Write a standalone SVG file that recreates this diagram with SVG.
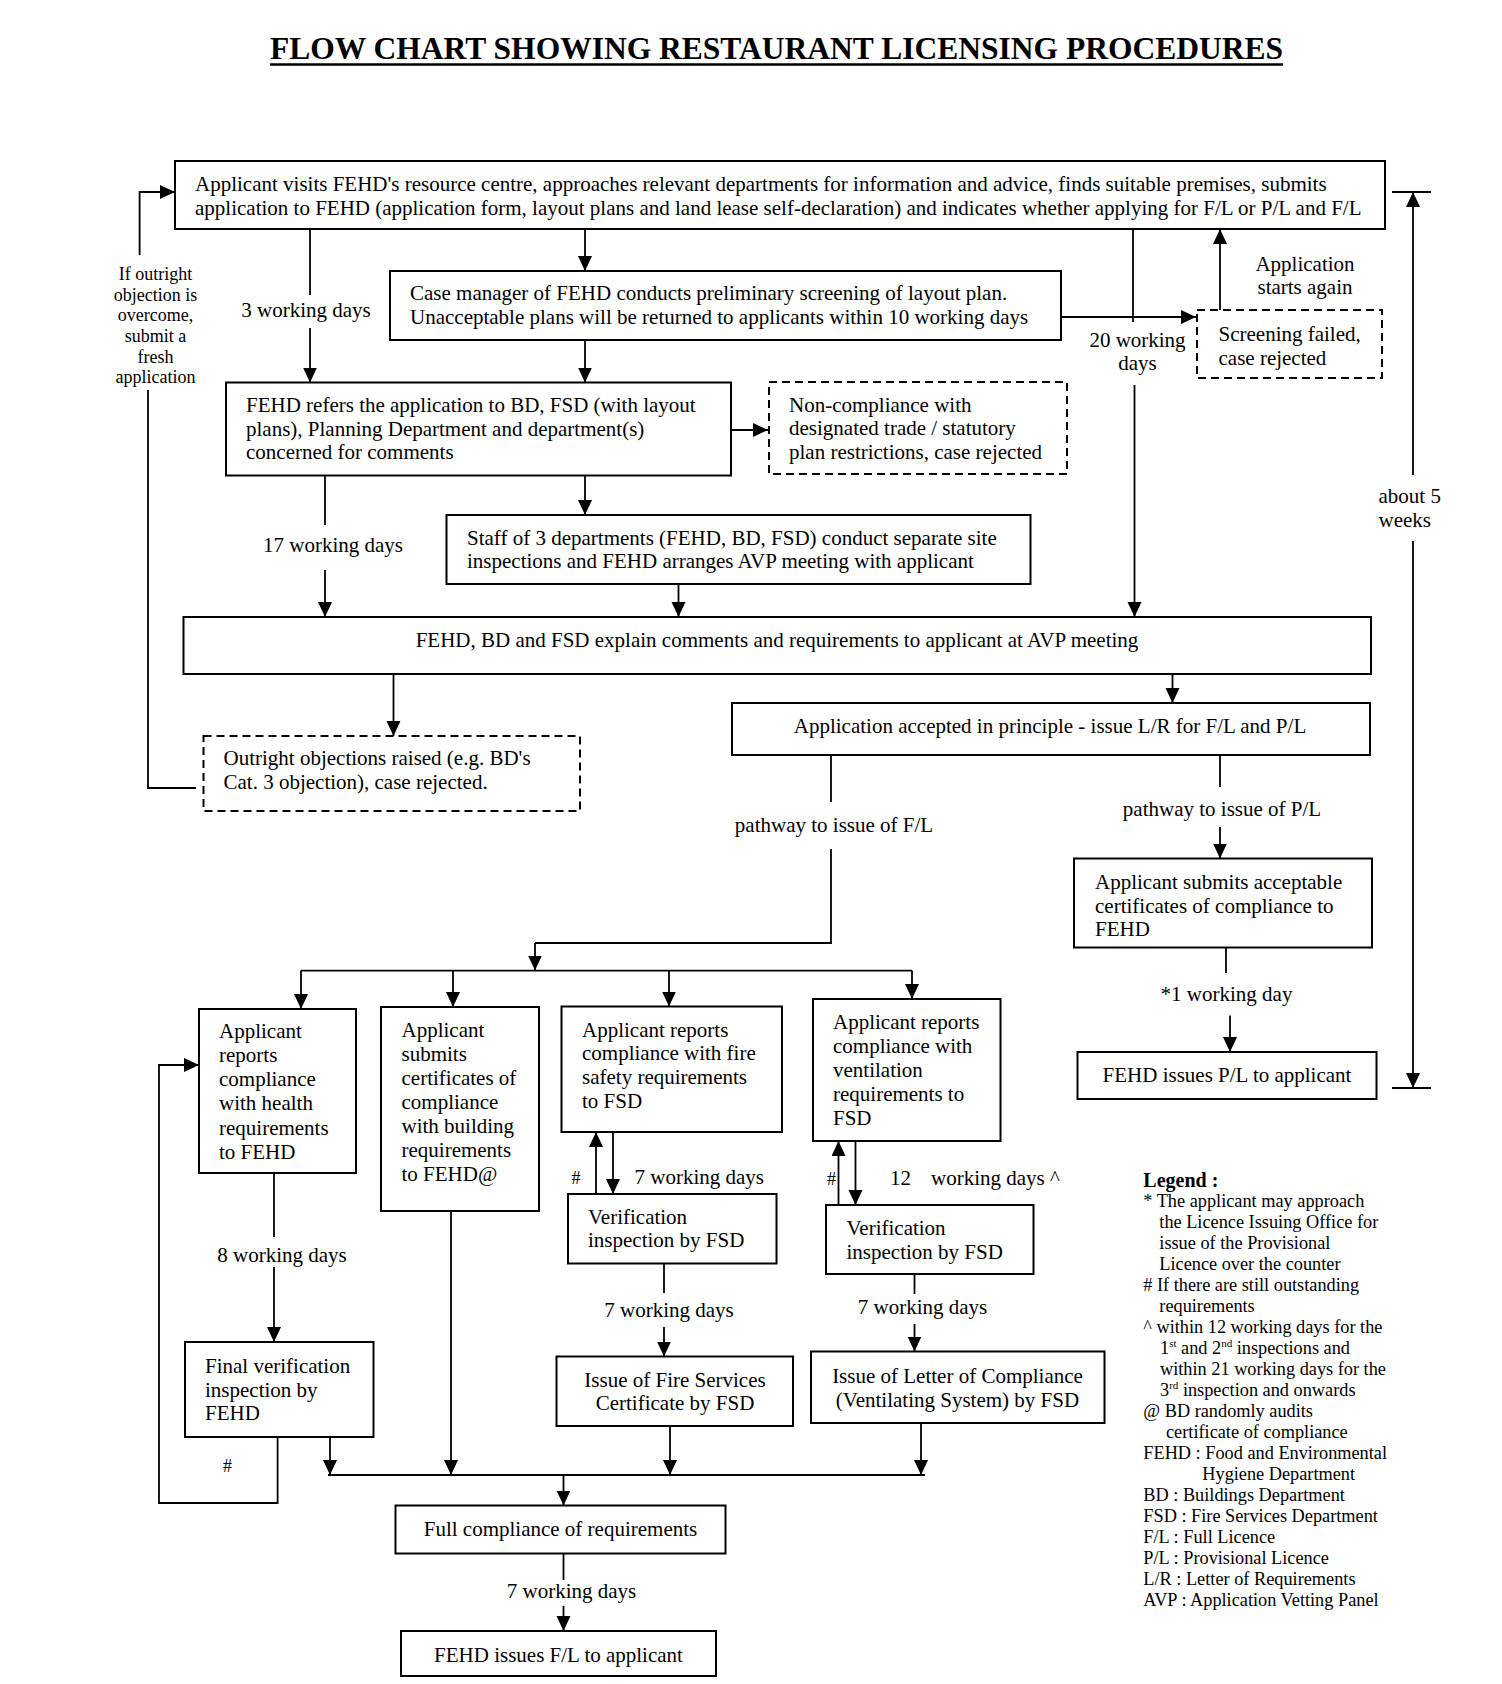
<svg xmlns="http://www.w3.org/2000/svg" width="1502" height="1684" viewBox="0 0 1502 1684">
<style>
text{font-family:"Liberation Serif","Times New Roman",serif;font-size:21px;fill:#000}
.s{font-size:18px}
.l{font-size:18.3px}
.m{text-anchor:middle}
.box{fill:#fff;stroke:#000;stroke-width:2}
.dash{fill:#fff;stroke:#000;stroke-width:2;stroke-dasharray:8 5}
.c{fill:none;stroke:#000;stroke-width:1.8}
.a{marker-end:url(#ah)}
</style>
<defs>
<marker id="ah" markerUnits="userSpaceOnUse" markerWidth="16" markerHeight="15" refX="15" refY="7" orient="auto">
<path d="M0,0 L15,7 L0,14 z" fill="#000"/>
</marker>
</defs>
<rect width="1502" height="1684" fill="#fff"/>

<g id="title">
<text x="776.5" y="59" class="m" style="font-size:31px;font-weight:bold" textLength="1013" lengthAdjust="spacingAndGlyphs">FLOW CHART SHOWING RESTAURANT LICENSING PROCEDURES</text>
<line x1="270" y1="64.5" x2="1283" y2="64.5" stroke="#000" stroke-width="2.4"/>
</g>

<g id="connectors">
<line class="c a" x1="585" y1="229" x2="585" y2="271"/>
<line class="c" x1="310" y1="229" x2="310" y2="295"/>
<line class="c a" x1="310" y1="328" x2="310" y2="382.5"/>
<text x="306" y="316.5" class="m">3 working days</text>
<line class="c a" x1="585" y1="340" x2="585" y2="382.5"/>
<line class="c a" x1="1061" y1="317" x2="1196" y2="317"/>
<line class="c a" x1="1220" y1="310" x2="1220" y2="229"/>
<text x="1305" y="271" class="m">Application</text>
<text x="1305" y="293.5" class="m">starts again</text>
<line class="c" x1="1133" y1="229" x2="1133" y2="322"/>
<line class="c a" x1="1134.5" y1="385" x2="1134.5" y2="617"/>
<text x="1137.5" y="346.5" class="m">20 working</text>
<text x="1137.5" y="370" class="m">days</text>
<line class="c a" x1="731" y1="430" x2="768" y2="430"/>
<line class="c a" x1="585" y1="475.5" x2="585" y2="515"/>
<line class="c" x1="325" y1="475.5" x2="325" y2="525"/>
<line class="c a" x1="325" y1="570" x2="325" y2="617"/>
<text x="333" y="551.5" class="m">17 working days</text>
<line class="c a" x1="678.5" y1="584" x2="678.5" y2="617"/>
<line class="c a" x1="393.5" y1="674" x2="393.5" y2="736"/>
<line class="c a" x1="1172.5" y1="674" x2="1172.5" y2="703"/>
<polyline class="c" points="196,788 148,788 148,390"/>
<polyline class="c a" points="139.6,255 139.6,192 175,192"/>
<text class="s m" x="155.5" y="280">If outright</text>
<text class="s m" x="155.5" y="300.7">objection is</text>
<text class="s m" x="155.5" y="321.3">overcome,</text>
<text class="s m" x="155.5" y="342">submit a</text>
<text class="s m" x="155.5" y="362.7">fresh</text>
<text class="s m" x="155.5" y="383.4">application</text>
<line class="c" x1="1392" y1="192" x2="1431" y2="192"/>
<line class="c" x1="1392" y1="1088" x2="1431" y2="1088"/>
<line class="c a" x1="1413" y1="475" x2="1413" y2="192"/>
<line class="c a" x1="1413" y1="541" x2="1413" y2="1088"/>
<text x="1378.5" y="503">about 5</text>
<text x="1378.5" y="526.7">weeks</text>
<line class="c" x1="831" y1="755" x2="831" y2="802"/>
<polyline class="c" points="831,849 831,943 535,943"/>
<line class="c a" x1="535" y1="943" x2="535" y2="970.6"/>
<text x="834" y="832" class="m">pathway to issue of F/L</text>
<line class="c" x1="301" y1="970.6" x2="912" y2="970.6"/>
<line class="c a" x1="301" y1="970.6" x2="301" y2="1009"/>
<line class="c a" x1="453" y1="970.6" x2="453" y2="1007"/>
<line class="c a" x1="669" y1="970.6" x2="669" y2="1006.5"/>
<line class="c a" x1="912" y1="970.6" x2="912" y2="999"/>
<line class="c" x1="1220" y1="755" x2="1220" y2="787"/>
<line class="c a" x1="1220" y1="827" x2="1220" y2="858.5"/>
<text x="1222" y="816" class="m">pathway to issue of P/L</text>
<line class="c" x1="1226" y1="947.5" x2="1226" y2="973"/>
<line class="c a" x1="1230" y1="1015.5" x2="1230" y2="1052"/>
<text x="1226.5" y="1000.5" class="m">*1 working day</text>
<line class="c" x1="274" y1="1173" x2="274" y2="1237"/>
<line class="c a" x1="274" y1="1267" x2="274" y2="1342"/>
<text x="282" y="1261.5" class="m">8 working days</text>
<polyline class="c a" points="277.6,1437 277.6,1503 159,1503 159,1065 199,1065"/>
<text x="227.5" y="1471.5" class="s m">#</text>
<line class="c a" x1="451" y1="1211" x2="451" y2="1475"/>
<line class="c a" x1="596" y1="1194" x2="596" y2="1132"/>
<line class="c a" x1="613" y1="1132" x2="613" y2="1194"/>
<text x="576" y="1183.5" class="s m">#</text>
<text x="634.5" y="1183.5">7 working days</text>
<line class="c" x1="664" y1="1263.5" x2="664" y2="1293"/>
<line class="c a" x1="664" y1="1327" x2="664" y2="1356.5"/>
<text x="669" y="1317" class="m">7 working days</text>
<line class="c a" x1="670" y1="1426" x2="670" y2="1475"/>
<line class="c a" x1="838.5" y1="1205" x2="838.5" y2="1141"/>
<line class="c a" x1="855.5" y1="1141" x2="855.5" y2="1205"/>
<text x="831.5" y="1185" class="s m">#</text>
<text y="1185"><tspan x="890">12</tspan><tspan x="931">working days ^</tspan></text>
<line class="c" x1="914.5" y1="1274" x2="914.5" y2="1294"/>
<line class="c a" x1="914.5" y1="1324" x2="914.5" y2="1351.5"/>
<text x="922.5" y="1313.5" class="m">7 working days</text>
<line class="c a" x1="921" y1="1423" x2="921" y2="1475"/>
<line class="c a" x1="330" y1="1437" x2="330" y2="1475"/>
<line class="c" x1="328" y1="1475" x2="925" y2="1475"/>
<line class="c a" x1="563.5" y1="1475" x2="563.5" y2="1505.5"/>
<line class="c" x1="563.5" y1="1553.5" x2="563.5" y2="1580"/>
<line class="c a" x1="563.5" y1="1606" x2="563.5" y2="1631"/>
<text x="571.5" y="1598.3" class="m">7 working days</text>
</g>

<g id="n-apply">
<rect class="box" x="175" y="161" width="1210" height="68"/>
<text x="195" y="190.5">Applicant visits FEHD's resource centre, approaches relevant departments for information and advice, finds suitable premises, submits</text>
<text x="195" y="214.5">application to FEHD (application form, layout plans and land lease self-declaration) and indicates whether applying for F/L or P/L and F/L</text>
</g>
<g id="n-screen">
<rect class="box" x="390" y="271" width="671" height="69"/>
<text x="410" y="300">Case manager of FEHD conducts preliminary screening of layout plan.</text>
<text x="410" y="324">Unacceptable plans will be returned to applicants within 10 working days</text>
</g>
<g id="n-screenfail">
<rect class="dash" x="1197" y="310" width="185" height="68"/>
<text x="1218.5" y="341">Screening failed,</text>
<text x="1218.5" y="364.5">case rejected</text>
</g>
<g id="n-refer">
<rect class="box" x="226" y="382.5" width="505" height="93"/>
<text x="246" y="412">FEHD refers the application to BD, FSD (with layout</text>
<text x="246" y="435.5">plans), Planning Department and department(s)</text>
<text x="246" y="459">concerned for comments</text>
</g>
<g id="n-noncomp">
<rect class="dash" x="769" y="382" width="298" height="92"/>
<text x="789" y="411.5">Non-compliance with</text>
<text x="789" y="435">designated trade / statutory</text>
<text x="789" y="458.5">plan restrictions, case rejected</text>
</g>
<g id="n-staff">
<rect class="box" x="446.5" y="515" width="584" height="69"/>
<text x="467" y="544.5">Staff of 3 departments (FEHD, BD, FSD) conduct separate site</text>
<text x="467" y="568">inspections and FEHD arranges AVP meeting with applicant</text>
</g>
<g id="n-avp">
<rect class="box" x="183.5" y="617" width="1187.5" height="57"/>
<text x="777" y="647" class="m">FEHD, BD and FSD explain comments and requirements to applicant at AVP meeting</text>
</g>
<g id="n-outright">
<rect class="dash" x="203.5" y="736" width="376.5" height="75"/>
<text x="223.5" y="764.5">Outright objections raised (e.g. BD's</text>
<text x="223.5" y="788.5">Cat. 3 objection), case rejected.</text>
</g>
<g id="n-accepted">
<rect class="box" x="732" y="703" width="638" height="52"/>
<text x="1050" y="733" class="m">Application accepted in principle - issue L/R for F/L and P/L</text>
</g>
<g id="n-plsubmit">
<rect class="box" x="1074" y="858.5" width="298" height="89"/>
<text x="1095" y="889">Applicant submits acceptable</text>
<text x="1095" y="912.5">certificates of compliance to</text>
<text x="1095" y="936">FEHD</text>
</g>
<g id="n-plissue">
<rect class="box" x="1077.5" y="1052" width="299" height="47"/>
<text x="1227" y="1082" class="m">FEHD issues P/L to applicant</text>
</g>
<g id="n-health">
<rect class="box" x="199" y="1009" width="157" height="164"/>
<text x="219" y="1038">Applicant</text>
<text x="219" y="1062">reports</text>
<text x="219" y="1086">compliance</text>
<text x="219" y="1110">with health</text>
<text x="219" y="1134.5">requirements</text>
<text x="219" y="1159">to FEHD</text>
</g>
<g id="n-building">
<rect class="box" x="381" y="1007" width="158" height="204"/>
<text x="401.5" y="1036.5">Applicant</text>
<text x="401.5" y="1060.5">submits</text>
<text x="401.5" y="1084.5">certificates of</text>
<text x="401.5" y="1108.5">compliance</text>
<text x="401.5" y="1132.5">with building</text>
<text x="401.5" y="1156.5">requirements</text>
<text x="401.5" y="1180.5">to FEHD@</text>
</g>
<g id="n-fire">
<rect class="box" x="561.5" y="1006.5" width="220.5" height="125.5"/>
<text x="582" y="1036.5">Applicant reports</text>
<text x="582" y="1060">compliance with fire</text>
<text x="582" y="1084">safety requirements</text>
<text x="582" y="1108">to FSD</text>
</g>
<g id="n-vent">
<rect class="box" x="813" y="999" width="187.5" height="142"/>
<text x="833" y="1029">Applicant reports</text>
<text x="833" y="1053">compliance with</text>
<text x="833" y="1077">ventilation</text>
<text x="833" y="1101">requirements to</text>
<text x="833" y="1125">FSD</text>
</g>
<g id="n-fireverify">
<rect class="box" x="568" y="1194" width="208.5" height="69.5"/>
<text x="588" y="1223.5">Verification</text>
<text x="588" y="1247">inspection by FSD</text>
</g>
<g id="n-ventverify">
<rect class="box" x="826" y="1205" width="207.5" height="69"/>
<text x="846.5" y="1234.5">Verification</text>
<text x="846.5" y="1259">inspection by FSD</text>
</g>
<g id="n-finalverify">
<rect class="box" x="185" y="1342" width="188.5" height="95"/>
<text x="205" y="1372.5">Final verification</text>
<text x="205" y="1396.5">inspection by</text>
<text x="205" y="1420">FEHD</text>
</g>
<g id="n-firecert">
<rect class="box" x="556.5" y="1356.5" width="236.5" height="69.5"/>
<text x="675" y="1386.5" class="m">Issue of Fire Services</text>
<text x="675" y="1410" class="m">Certificate by FSD</text>
</g>
<g id="n-letter">
<rect class="box" x="811" y="1351.5" width="293.5" height="71.5"/>
<text x="957.5" y="1383" class="m">Issue of Letter of Compliance</text>
<text x="957.5" y="1407" class="m">(Ventilating System) by FSD</text>
</g>
<g id="n-full">
<rect class="box" x="395.5" y="1505.5" width="330" height="48"/>
<text x="560.5" y="1536" class="m">Full compliance of requirements</text>
</g>
<g id="n-flissue">
<rect class="box" x="401" y="1631" width="315" height="45"/>
<text x="558.5" y="1661.5" class="m">FEHD issues F/L to applicant</text>
</g>

<g id="legend">
<text x="1143.3" y="1187.3" style="font-size:20px;font-weight:bold">Legend :</text>
<text class="l" x="1143.3" y="1207.3">* The applicant may approach</text>
<text class="l" x="1159.3" y="1228.3">the Licence Issuing Office for</text>
<text class="l" x="1159.3" y="1249.3">issue of the Provisional</text>
<text class="l" x="1159.3" y="1270.3">Licence over the counter</text>
<text class="l" x="1143.3" y="1291.3"># If there are still outstanding</text>
<text class="l" x="1159.3" y="1312.3">requirements</text>
<text class="l" x="1143.3" y="1333.3">^ within 12 working days for the</text>
<text class="l" x="1160" y="1354.3">1<tspan font-size="11" dy="-7">st</tspan><tspan dy="7"> and 2</tspan><tspan font-size="11" dy="-7">nd</tspan><tspan dy="7"> inspections and</tspan></text>
<text class="l" x="1160" y="1375.3">within 21 working days for the</text>
<text class="l" x="1160" y="1396.3">3<tspan font-size="11" dy="-7">rd</tspan><tspan dy="7"> inspection and onwards</tspan></text>
<text class="l" x="1143.3" y="1417.3">@ BD randomly audits</text>
<text class="l" x="1166" y="1438.3">certificate of compliance</text>
<text class="l" x="1143.3" y="1459.3">FEHD : Food and Environmental</text>
<text class="l" x="1202.3" y="1480.3">Hygiene Department</text>
<text class="l" x="1143.3" y="1501.3">BD : Buildings Department</text>
<text class="l" x="1143.3" y="1522.3">FSD : Fire Services Department</text>
<text class="l" x="1143.3" y="1543.3">F/L : Full Licence</text>
<text class="l" x="1143.3" y="1564.3">P/L : Provisional Licence</text>
<text class="l" x="1143.3" y="1585.3">L/R : Letter of Requirements</text>
<text class="l" x="1143.3" y="1606.3">AVP : Application Vetting Panel</text>
</g>
</svg>
